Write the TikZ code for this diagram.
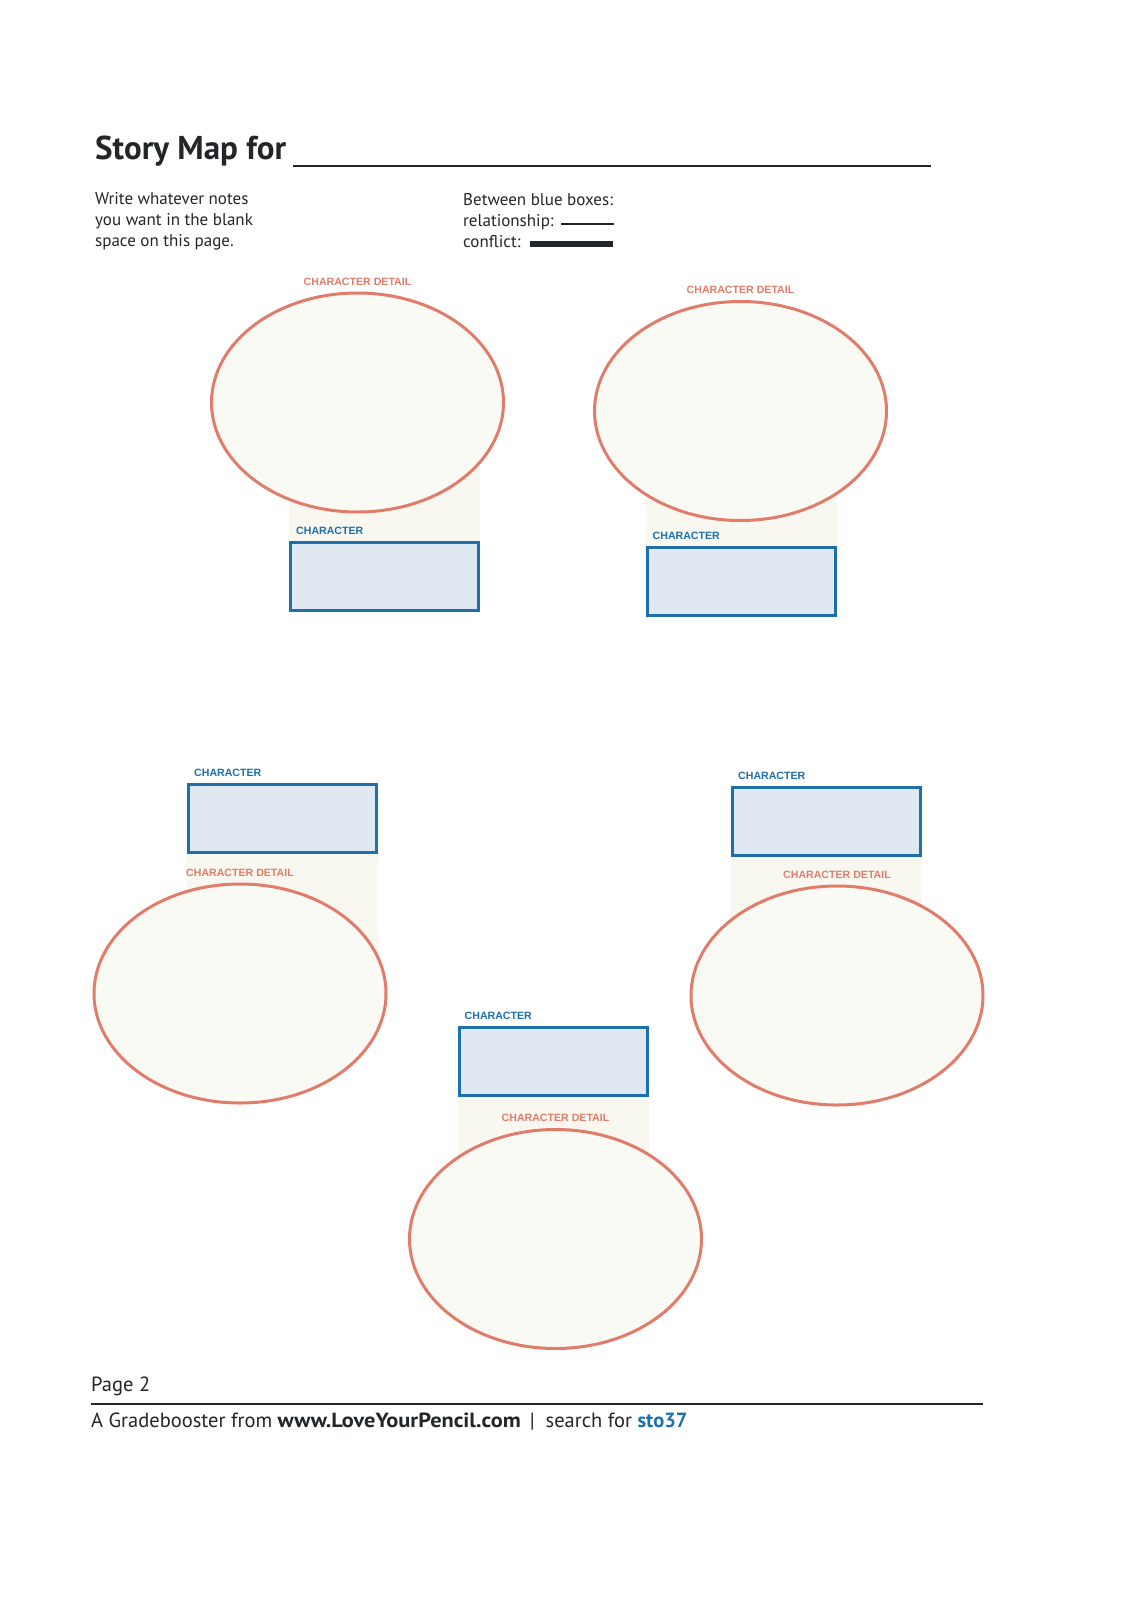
\documentclass[tikz,border=0pt]{standalone}
\usepackage{fontspec}
\setmainfont{PT Sans}
\newfontfamily\labelfont{Liberation Sans}
\usetikzlibrary{shapes.geometric,positioning,backgrounds}

\definecolor{detailred}{RGB}{226,124,106}
\definecolor{detailfill}{RGB}{250,250,245}
\definecolor{charblue}{RGB}{30,112,172}
\definecolor{charfill}{RGB}{224,232,242}
\definecolor{panelcream}{RGB}{248,247,240}
\definecolor{ink}{RGB}{35,38,40}

\tikzset{
  detail/.style={ellipse,draw=detailred,line width=3pt,fill=detailfill,
    minimum width=292pt,minimum height=219pt,inner sep=0pt},
  charbox/.style={rectangle,draw=charblue,line width=3pt,fill=charfill,
    minimum width=188pt,minimum height=68pt,inner sep=0pt},
  detaillabel/.style={inner sep=0pt,text=detailred,
    font=\labelfont\bfseries\fontsize{10.6}{12}\selectfont},
  charlabel/.style={inner sep=0pt,text=charblue,
    font=\labelfont\bfseries\fontsize{10.6}{12}\selectfont},
  notes/.style={inner sep=0pt,align=left,text=ink,
    font=\fontsize{17}{21}\selectfont},
  footer/.style={inner sep=0pt,text=ink,font=\fontsize{20.5}{24}\selectfont},
  panel/.style={fill=panelcream}
}

\begin{document}
\begin{tikzpicture}[x=1pt,y=-1pt]
\useasboundingbox (0,0) rectangle (1131,1600);

% heading and notes
\node[inner sep=0pt,anchor=base west,text=ink,
  font=\bfseries\fontsize{33}{40}\selectfont] (title) at (95,160) {Story Map for};
\coordinate (ruleend) at (931,166);
\draw[ink,line width=1.5pt] ([xshift=7pt,yshift=-6pt]title.base east) -- (ruleend);

\node[notes,anchor=north west] (notes) at (95,192)
  {Write whatever notes\\you want in the blank\\space on this page.};
\node[notes,anchor=base west] (between) at (463,205) {Between blue boxes:};
\node[notes,anchor=base west] (relation) at (463,226) {relationship:};
\node[notes,anchor=base west] (conflict) at (463,247) {conflict:};
\coordinate (relend) at (614,224);
\coordinate (conend) at (613,244);
\draw[ink,line width=1.5pt] (relation.base east -| 561,0) ++(0,-2) -- (relend);
\draw[ink,line width=5.5pt] (conflict.base east -| 530,0) ++(0,-3) -- (conend);

% top pair
\node[detail] (detail1) at (357.5,402.5) {};
\node[charbox] (char1) at (384.5,576.5) {};
\node[detail] (detail2) at (740.5,411) {};
\node[charbox] (char2) at (741,581.5) {};
% lower three
\node[charbox] (char3) at (282.5,818.5) {};
\node[detail] (detail3) at (240,993.5) {};
\node[charbox] (char4) at (826.5,821) {};
\node[detail] (detail4) at (837,995.5) {};
\node[charbox] (char5) at (553,1061.5) {};
\node[detail] (detail5) at (555.5,1239) {};

\foreach \i in {1,...,5}{
  \node[detaillabel,above=6pt of detail\i.north] (detaillabel\i) {CHARACTER DETAIL};
  \node[charlabel,above right=6pt and 7pt of char\i.north west] (charlabel\i) {CHARACTER};
}

\begin{scope}[on background layer]
  \fill[white] (0,0) rectangle (1131,1600);
  \foreach \i in {1,...,5}
    \fill[panel] (char\i.west |- char\i.center) rectangle (char\i.east |- detail\i.center);
\end{scope}

% footer
\node[footer,anchor=base west] (pagenum) at (91,1391) {Page 2};
\coordinate (footend) at (983,1404);
\draw[ink,line width=2pt] (pagenum.base west) ++(0,13) -- (footend);
\node[footer,anchor=base west] (credit) at (91,1427)
  {A Gradebooster from \scalebox{1.09}[1]{\textbf{www.LoveYourPencil.com}}\hspace{9pt}|\hspace{11pt}search for \textcolor{charblue}{\textbf{sto37}}};
\end{tikzpicture}
\end{document}
